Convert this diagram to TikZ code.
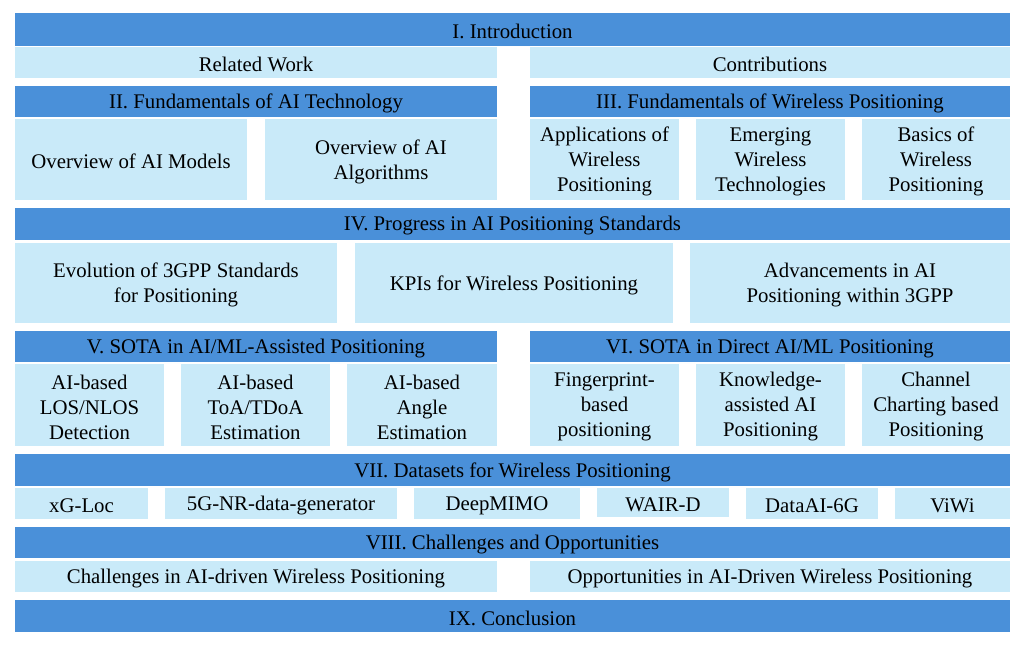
\documentclass[tikz,border=0pt]{standalone}
\usepackage{fontspec}
\setmainfont{Liberation Serif}
\definecolor{dk}{RGB}{74,144,217}
\definecolor{lt}{RGB}{201,234,249}
\begin{document}
\begin{tikzpicture}[x=1pt,y=-1pt,
 lbl/.style={font=\fontsize{20.8}{25}\selectfont,align=center,inner sep=0pt,yshift=-2pt}]
\useasboundingbox (0,0) rectangle (1025,662);
\newcommand\bx[6]{\fill[#1] (#2,#3) rectangle (#4,#5);
 \node[lbl,text=\ifx#1dk white\else black\fi] (n#2x#3) at ({(#2+#4)/2},{(#3+#5)/2}) {#6};}
\bx{dk}{15}{13}{1010}{46}{I. Introduction}
\bx{lt}{15}{47}{497}{78}{Related Work}
\bx{lt}{530}{47}{1010}{78}{Contributions}
\bx{dk}{15}{86}{497}{117}{II. Fundamentals of AI Technology}
\bx{dk}{530}{86}{1010}{117}{III. Fundamentals of Wireless Positioning}
\bx{lt}{15}{119}{247}{200}{Overview of AI Models}
\bx{lt}{265}{119}{497}{200}{Overview of AI\\Algorithms}
\bx{lt}{530}{119}{679}{200}{Applications of\\Wireless\\Positioning}
\bx{lt}{696}{119}{845}{200}{Emerging\\Wireless\\Technologies}
\bx{lt}{862}{119}{1010}{200}{Basics of\\Wireless\\Positioning}
\bx{dk}{15}{208}{1010}{240}{IV. Progress in AI Positioning Standards}
\bx{lt}{15}{243}{337}{323}{Evolution of 3GPP Standards\\for Positioning}
\bx{lt}{355}{243}{673}{323}{KPIs for Wireless Positioning}
\bx{lt}{690}{243}{1010}{323}{Advancements in AI\\Positioning within 3GPP}
\bx{dk}{15}{331}{497}{362}{V. SOTA in AI/ML-Assisted Positioning}
\bx{dk}{530}{331}{1010}{362}{VI. SOTA in Direct AI/ML Positioning}
\bx{lt}{15}{364}{164}{446}{AI-based\\LOS/NLOS\\Detection}
\bx{lt}{181}{364}{330}{446}{AI-based\\ToA/TDoA\\Estimation}
\bx{lt}{347}{364}{497}{446}{AI-based\\Angle\\Estimation}
\bx{lt}{530}{364}{679}{446}{Fingerprint-\\based\\positioning}
\bx{lt}{696}{364}{845}{446}{Knowledge-\\assisted AI\\Positioning}
\bx{lt}{862}{364}{1010}{446}{Channel\\Charting based\\Positioning}
\bx{dk}{15}{454}{1010}{486}{VII. Datasets for Wireless Positioning}
\bx{lt}{15}{488}{148}{519}{xG-Loc}
\bx{lt}{165}{488}{397}{519}{5G-NR-data-generator}
\bx{lt}{414}{488}{580}{519}{DeepMIMO}
\bx{lt}{597}{488}{729}{517}{WAIR-D}
\bx{lt}{746}{488}{878}{519}{DataAI-6G}
\bx{lt}{895}{488}{1010}{519}{ViWi}
\bx{dk}{15}{527}{1010}{558}{VIII. Challenges and Opportunities}
\bx{lt}{15}{561}{497}{592}{Challenges in AI-driven Wireless Positioning}
\bx{lt}{530}{561}{1010}{592}{Opportunities in AI-Driven Wireless Positioning}
\bx{dk}{15}{600}{1010}{632}{IX. Conclusion}
\end{tikzpicture}
\end{document}
